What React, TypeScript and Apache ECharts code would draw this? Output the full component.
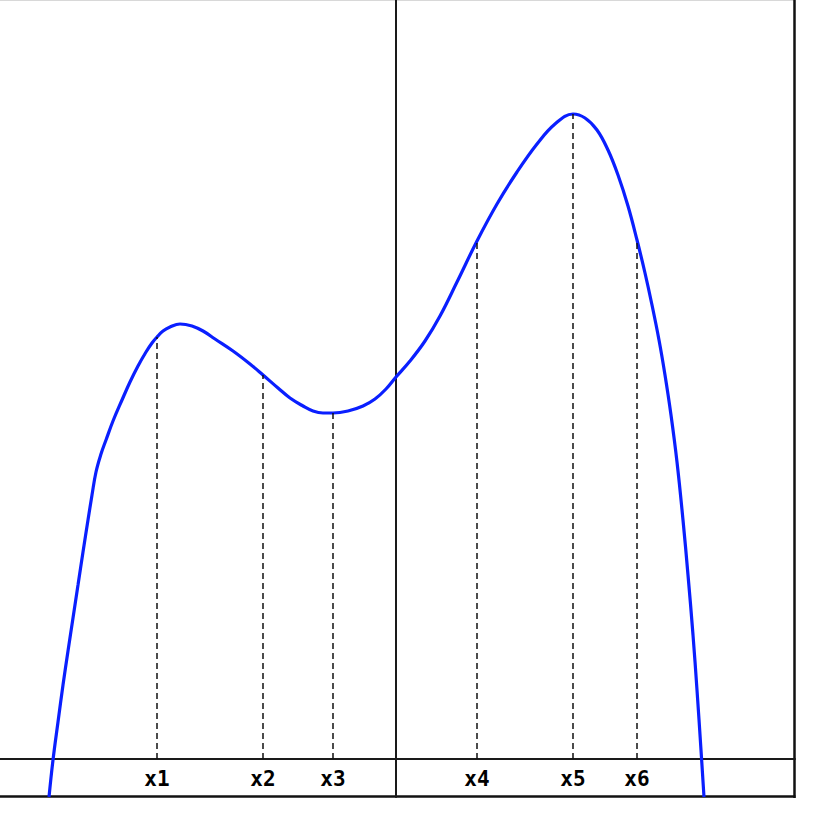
import React, { useEffect, useRef } from "react";
import * as echarts from "echarts";

// Curve points in picture pixels (px, py)
const curvePx = [49, 53, 58, 63, 68, 73, 78, 83, 88, 92, 96, 101, 106, 113, 122, 130, 138, 146, 152, 157, 163, 170, 180, 192, 203, 215, 233, 250, 263, 278, 290, 303, 313, 323, 333, 348, 363, 375, 386, 396, 410, 425, 440, 457, 477, 497, 517, 537, 555, 573, 585, 597, 608, 618, 628, 637, 645, 652, 659, 665, 671, 677, 683, 688, 693, 697, 701, 704];
const curvePy = [797, 760, 722, 685, 651, 618, 585, 552, 520, 495, 472, 454, 440, 421, 400, 382, 366, 352, 343, 337, 331, 327, 324, 326, 331, 339, 351, 364, 375, 388, 398, 406, 411, 413, 413, 411, 406, 399, 389, 377, 361, 341, 316, 282, 241, 204, 172, 144, 124, 114, 118, 130, 150, 175, 206, 240, 273, 305, 340, 375, 415, 462, 520, 575, 635, 690, 750, 797];

// Marked positions (x in pixels) and their names
const markNames = ["x1", "x2", "x3", "x4", "x5", "x6"];
const markPx = [157, 263, 333, 477, 573, 637];
const markPy = [337, 375, 413, 241, 114, 240];

// Axis origin in pixels
const X0 = 396;
const Y0 = 759;

export default function App() {
  const ref = useRef<HTMLDivElement>(null);
  useEffect(() => {
    if (!ref.current) return;
    const chart = echarts.init(ref.current, null, { renderer: "svg" });
    const curve = curvePx.map((px, i) => [px - X0, Y0 - curvePy[i]]);
    const marks = markPx.map((px, i) => [px - X0, Y0 - markPy[i]]);
    chart.setOption({
      animation: false,
      backgroundColor: "#ffffff",
      grid: { left: 0, right: 27, top: 0, bottom: 21, outerBoundsMode: "none", containLabel: false },
      xAxis: {
        type: "value",
        min: -396,
        max: 399,
        splitLine: { show: false },
        axisLine: { onZero: true, lineStyle: { color: "#1a1a1a", width: 2 } },
        axisTick: { show: false },
        axisLabel: { show: false },
      },
      yAxis: {
        type: "value",
        min: -38,
        max: 759,
        splitLine: { show: false },
        axisLine: { onZero: true, lineStyle: { color: "#1a1a1a", width: 2 } },
        axisTick: { show: false },
        axisLabel: { show: false },
      },
      series: [
        {
          type: "line",
          data: curve,
          smooth: 0.4,
          symbol: "none",
          clip: true,
          lineStyle: { color: "#0a1fff", width: 3.2 },
          markLine: {
            silent: true,
            symbol: ["none", "none"],
            label: { show: false },
            lineStyle: { color: "#111", width: 1.5, type: [6, 4] },
            data: marks.map((m) => [{ coord: [m[0], 0] }, { coord: [m[0], m[1]] }]),
          },
          z: 3,
        },
        {
          type: "scatter",
          data: marks.map((m, i) => ({ value: [m[0], 0], name: markNames[i] })),
          symbolSize: 0,
          silent: true,
          itemStyle: { opacity: 1 },
          label: {
            show: true,
            position: "inside",
            offset: [0, 20],
            formatter: (p: any) => p.name,
            color: "#000",
            opacity: 1,
            textBorderWidth: 0,
            textBorderColor: "transparent",
            fontWeight: "bold",
            fontSize: 21,
            fontFamily: "DejaVu Sans Mono",
          },
          z: 4,
        },
      ],
      graphic: [
        { type: "line", shape: { x1: 0, y1: 0.5, x2: 795, y2: 0.5 }, style: { stroke: "#d8d8d8", lineWidth: 1 } },
        { type: "line", shape: { x1: 794.5, y1: 0, x2: 794.5, y2: 798 }, style: { stroke: "#111", lineWidth: 2.5 } },
        { type: "line", shape: { x1: 0, y1: 796.5, x2: 795.5, y2: 796.5 }, style: { stroke: "#111", lineWidth: 2.5 } },
      ],
    });
    return () => chart.dispose();
  }, []);
  return (
    <div
      ref={ref}
      style={{ position: "fixed", left: 0, top: 0, width: 822, height: 818, background: "#fff" }}
    />
  );
}
